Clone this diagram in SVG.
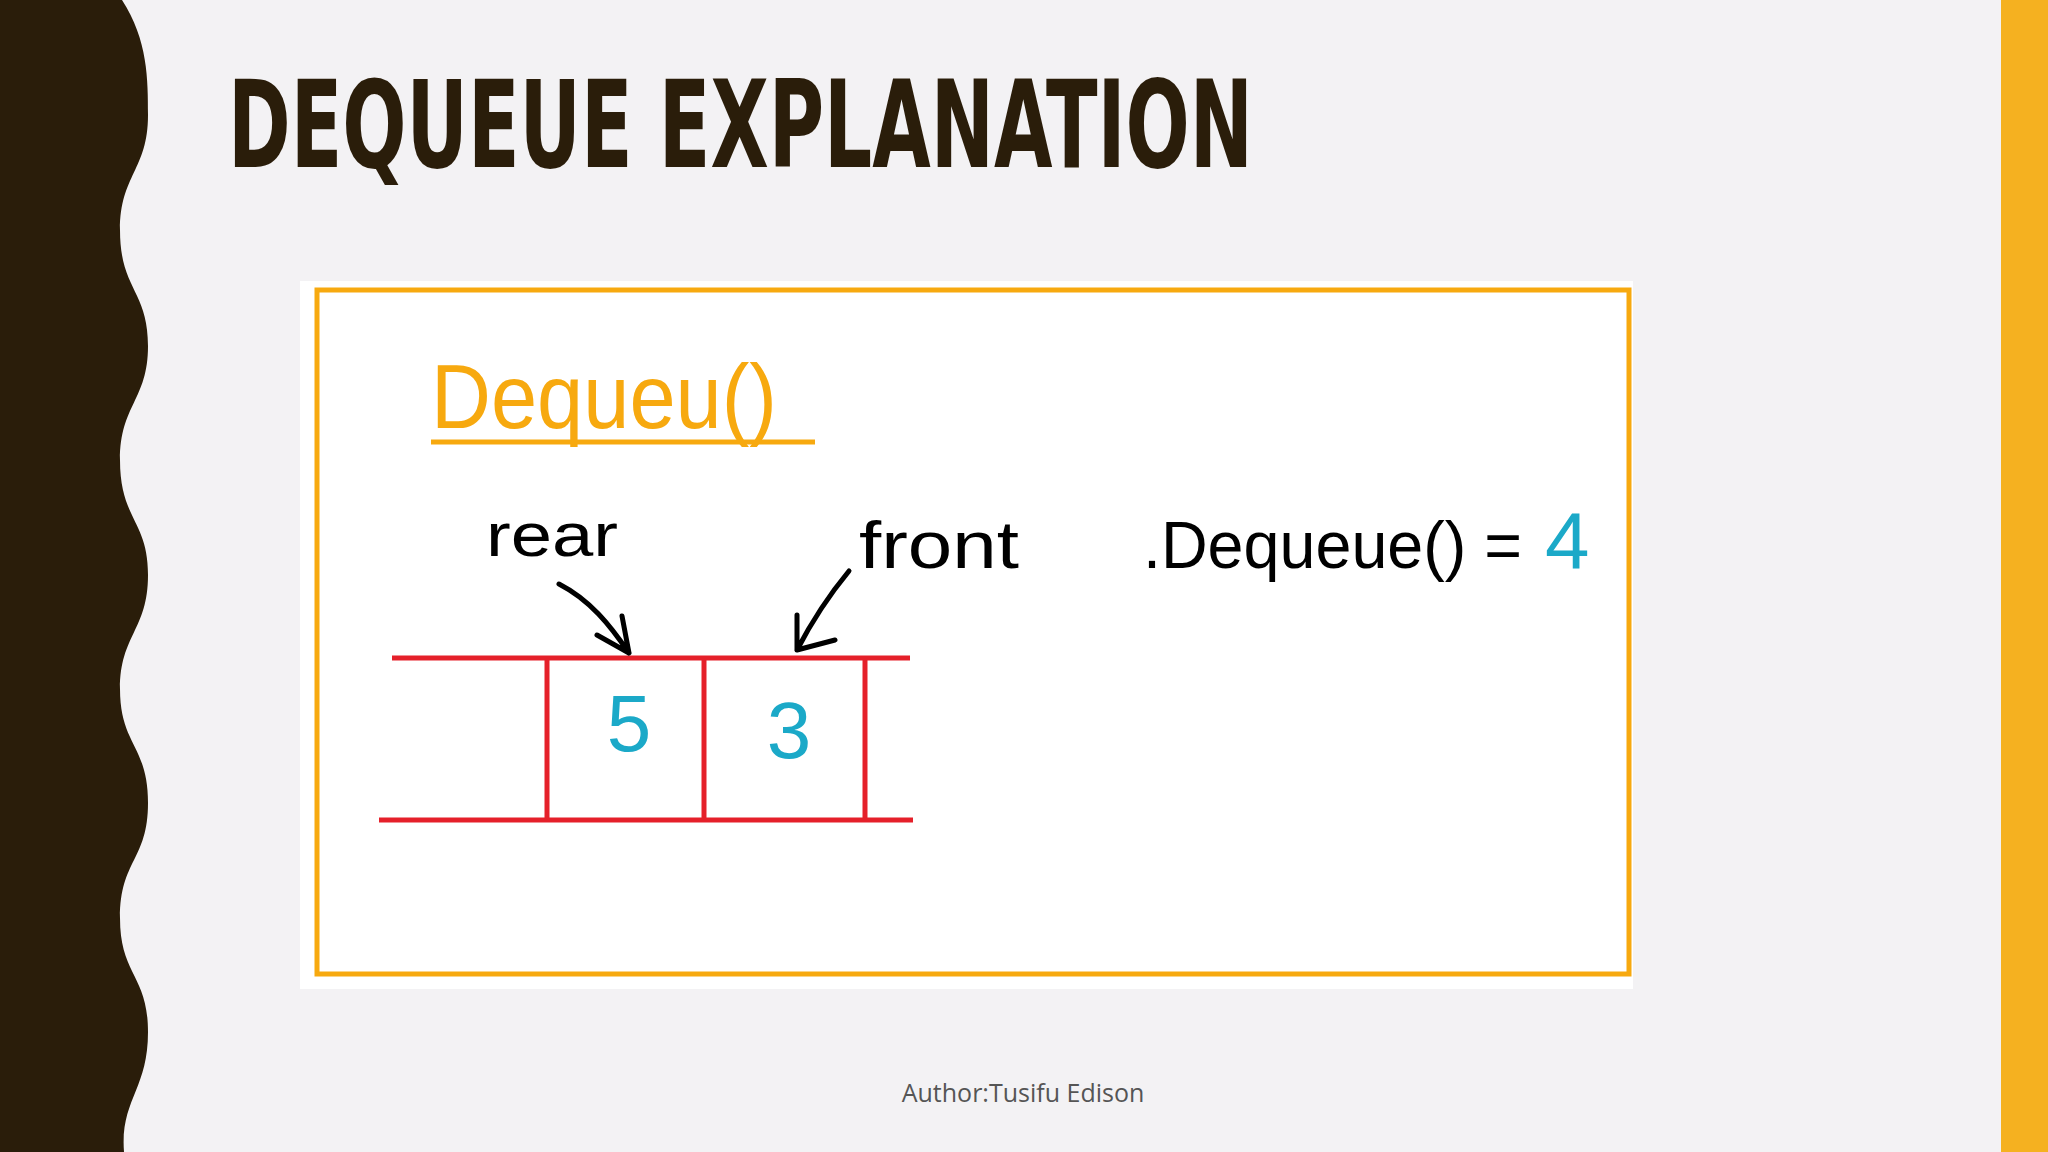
<svg xmlns="http://www.w3.org/2000/svg" width="2048" height="1152" viewBox="0 0 2048 1152">
<style>
.hw{font-family:"Liberation Sans",sans-serif;}
.red{stroke:#e5202a;stroke-width:5;fill:none}
.ar{stroke:#000;stroke-width:5;fill:none;stroke-linecap:round;stroke-linejoin:round}
</style>
<rect width="2048" height="1152" fill="#f3f2f4"/>
<path d="M0 0H122 C148 40,148 80,148 115 C148 170,120 175,120 230 C120 290,148 290,148 346 C148 400,120 405,120 460 C120 520,148 520,148 575 C148 630,120 635,120 689 C120 745,148 745,148 803 C148 860,120 860,120 918 C120 975,148 975,148 1032 C148 1090,120 1100,124 1152 H0Z" fill="#2a1d0a"/>
<rect x="2001" y="0" width="47" height="1152" fill="#f5b120"/>
<text x="228" y="167" font-family="DejaVu Sans Condensed,Liberation Sans,sans-serif" font-weight="bold" font-size="122" fill="#2a1d0a" textLength="1025" lengthAdjust="spacingAndGlyphs">DEQUEUE EXPLANATION</text>
<g id="board">
<rect x="300" y="281" width="1333" height="708" fill="#fff"/>
<rect x="317" y="290" width="1312" height="684" fill="none" stroke="#f7a90f" stroke-width="5"/>
</g>
<g id="title2">
<text x="431" y="428" class="hw" font-size="90" fill="#f7a90f" textLength="346" lengthAdjust="spacingAndGlyphs">Dequeu()</text>
<line x1="431" y1="442" x2="815" y2="442" stroke="#f7a90f" stroke-width="5"/>
</g>
<g id="queue">
<line class="red" x1="392" y1="658" x2="910" y2="658"/>
<line class="red" x1="379" y1="820" x2="913" y2="820"/>
<line class="red" x1="547" y1="658" x2="547" y2="820"/>
<line class="red" x1="704" y1="658" x2="704" y2="820"/>
<line class="red" x1="865" y1="658" x2="865" y2="820"/>
<text x="629" y="751" class="hw" font-size="80" fill="#1ba9c8" text-anchor="middle">5</text>
<text x="789" y="758" class="hw" font-size="80" fill="#1ba9c8" text-anchor="middle">3</text>
</g>
<g id="labels">
<text x="486" y="556" class="hw" font-size="62" fill="#000" textLength="132" lengthAdjust="spacingAndGlyphs">rear</text>
<text x="859" y="568" class="hw" font-size="66" fill="#000" textLength="160" lengthAdjust="spacingAndGlyphs">front</text>
<text x="1143" y="568" class="hw" font-size="66" fill="#000" textLength="379" lengthAdjust="spacingAndGlyphs">.Dequeue() =</text>
<text x="1545" y="568" class="hw" font-size="80" fill="#1ba9c8">4</text>
</g>
<g id="connectors">
<path class="ar" d="M559 584 C590 600,610 625,629 653 M597 635 L629 653 L622 616"/>
<path class="ar" d="M849 571 C825 600,810 625,797 650 M797 615 L797 650 L835 640"/>
</g>
<text x="1023" y="1102" font-family="Open Sans,Liberation Sans,sans-serif" font-size="25" fill="#555" text-anchor="middle">Author:Tusifu Edison</text>
</svg>
